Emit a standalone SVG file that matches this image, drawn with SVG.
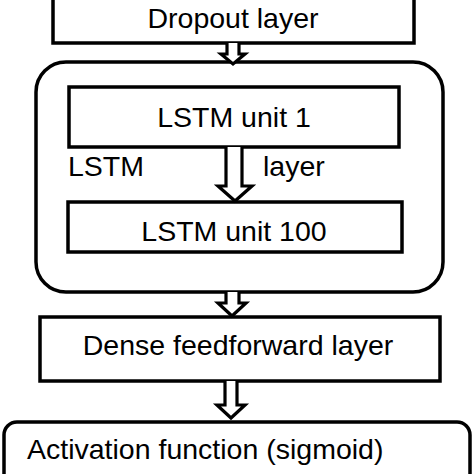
<svg xmlns="http://www.w3.org/2000/svg" width="474" height="474" viewBox="0 0 474 474">
<style>
.box{fill:#fff;stroke:#000;stroke-width:3.5}
.t{font-family:"Liberation Sans",Arial,sans-serif;font-size:28.5px;fill:#000}
.arr{fill:#fff;stroke:#000;stroke-width:3.2;stroke-linejoin:miter}
</style>
<rect width="474" height="474" fill="#fff"/>
<g id="dropout">
<rect class="box" x="53" y="-10" width="361" height="53"/>
<text class="t" x="233" y="28" text-anchor="middle">Dropout layer</text>
</g>
<g id="lstm-layer">
<rect class="box" x="36" y="62" width="407" height="230" rx="30" ry="30"/>
<text class="t" x="68" y="176">LSTM</text>
<text class="t" x="263" y="176">layer</text>
</g>
<g id="lstm1">
<rect class="box" x="69" y="87" width="330" height="60"/>
<text class="t" x="234" y="127" text-anchor="middle">LSTM unit 1</text>
</g>
<g id="lstm100">
<rect class="box" x="68" y="202" width="334" height="50"/>
<text class="t" x="234" y="241" text-anchor="middle">LSTM unit 100</text>
</g>
<g id="dense">
<rect class="box" x="40" y="317" width="400" height="64"/>
<text class="t" x="238" y="355" text-anchor="middle">Dense feedforward layer</text>
</g>
<g id="activation">
<rect class="box" x="4" y="422" width="466" height="80" rx="13" ry="13"/>
<text class="t" x="27" y="459">Activation function (sigmoid)</text>
</g>
<g id="connectors">
<path class="arr" d="M227,43 V54 H221 L233,64 L245,54 H239 V43"/>
<path class="arr" d="M226,147 V186 H218 L235,201 L252,186 H242 V147"/>
<path class="arr" d="M226,292 V303 H218 L232,316 L246,303 H239 V292"/>
<path class="arr" d="M225,381 V405 H217 L231,418 L245,405 H237 V381"/>
</g>
</svg>
